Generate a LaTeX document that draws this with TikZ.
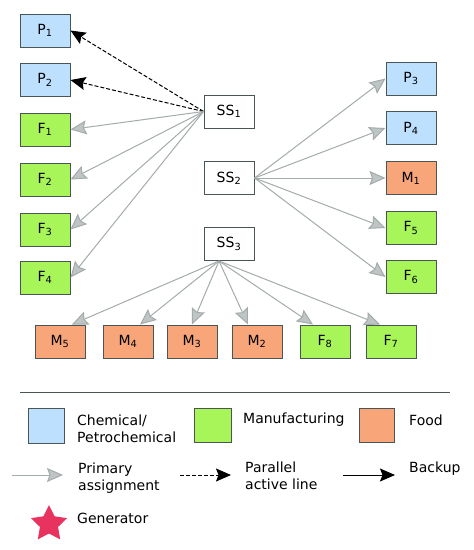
\documentclass[tikz,border=0pt]{standalone}
\usepackage{fontspec}
\setmainfont{DejaVu Sans}
\usepackage{xcolor}
\usetikzlibrary{positioning, calc, arrows.meta, shapes.geometric}

\definecolor{chemblue}{HTML}{BEE0FF}
\definecolor{manugreen}{HTML}{A8F55A}
\definecolor{foodorange}{HTML}{F8A57A}
\definecolor{boxedge}{HTML}{4A5656}
\definecolor{primgray}{HTML}{A3ABAB}
\definecolor{genred}{HTML}{E8335E}

\tikzset{
    plant/.style={draw=boxedge, line width=1pt, minimum width=50pt, minimum height=33pt, inner sep=0pt},
    chem/.style={plant, fill=chemblue},
    manu/.style={plant, fill=manugreen},
    food/.style={plant, fill=foodorange},
    substation/.style={plant, fill=white},
    primary/.style={draw=primgray, line width=1pt, -{Stealth[inset=2.5pt, length=16pt, width=14pt, fill=primgray!70]}},
    parallel/.style={draw=black, line width=1pt, dash pattern=on 4pt off 2pt, -{Stealth[inset=2.5pt, length=15pt, width=13pt]}},
    backup/.style={draw=black, line width=1pt, -{Stealth[inset=2.5pt, length=15pt, width=13pt]}},
    legtext/.style={anchor=west, align=left, inner sep=0pt}
}

\begin{document}
\begin{tikzpicture}[x=1pt, y=-1pt, font=\fontsize{14}{17.5}\selectfont]
    \useasboundingbox (0,0) rectangle (474,550);

    % Left column
    \node[chem] (p1) at (45, 30.5) {P\textsubscript{1}};
    \node[chem] (p2) at (45, 80) {P\textsubscript{2}};
    \node[manu] (f1) at (45, 129.5) {F\textsubscript{1}};
    \node[manu] (f2) at (45, 179.5) {F\textsubscript{2}};
    \node[manu] (f3) at (45, 229.5) {F\textsubscript{3}};
    \node[manu] (f4) at (45, 277.5) {F\textsubscript{4}};

    % Substations
    \node[substation] (ss1) at (229, 111.5) {SS\textsubscript{1}};
    \node[substation] (ss2) at (229, 178) {SS\textsubscript{2}};
    \node[substation] (ss3) at (229, 244) {SS\textsubscript{3}};

    % Right column
    \node[chem] (p3) at (411, 78.5) {P\textsubscript{3}};
    \node[chem] (p4) at (411, 128) {P\textsubscript{4}};
    \node[food] (m1) at (411, 178) {M\textsubscript{1}};
    \node[manu] (f5) at (411, 228) {F\textsubscript{5}};
    \node[manu] (f6) at (411, 277) {F\textsubscript{6}};

    % Bottom row
    \node[food] (m5) at (60, 341.5) {M\textsubscript{5}};
    \node[food] (m4) at (128, 341.5) {M\textsubscript{4}};
    \node[food] (m3) at (192, 341.5) {M\textsubscript{3}};
    \node[food] (m2) at (257, 341.5) {M\textsubscript{2}};
    \node[manu] (f8) at (325, 341.5) {F\textsubscript{8}};
    \node[manu] (f7) at (391, 341.5) {F\textsubscript{7}};

    % SS1 lines
    \draw[parallel] (ss1.west) -- (p1.east);
    \draw[parallel] (ss1.west) -- (p2.east);
    \draw[primary] (ss1.west) -- (f1.east);
    \draw[primary] (ss1.west) -- (f2.east);
    \draw[primary] (ss1.west) -- (f3.east);
    \draw[primary] (ss1.west) -- (f4.east);

    % SS2 lines
    \draw[primary] (ss2.east) -- (p3.west);
    \draw[primary] (ss2.east) -- (p4.west);
    \draw[primary] (ss2.east) -- (m1.west);
    \draw[primary] (ss2.east) -- (f5.west);
    \draw[primary] (ss2.east) -- (f6.west);

    % SS3 lines
    \coordinate (ss3out) at ([xshift=-10pt]ss3.south);
    \draw[primary] (ss3out) -- ([xshift=12pt]m5.north);
    \draw[primary] (ss3out) -- ([xshift=12pt]m4.north);
    \draw[primary] (ss3out) -- (m3.north);
    \draw[primary] (ss3out) -- ([xshift=-9pt]m2.north);
    \draw[primary] (ss3out) -- ([xshift=-12pt]f8.north);
    \draw[primary] (ss3out) -- ([xshift=-11pt]f7.north);

    % Separator
    \draw[line width=0.9pt, boxedge] (20, 392) -- (450, 392);

    % Legend: sectors
    \node[plant, fill=chemblue, minimum width=36pt, minimum height=35pt] (legchem) at (46, 425.5) {};
    \node[legtext] (legchemtxt) at (77, 429) {Chemical/\\Petrochemical};
    \node[plant, fill=manugreen, minimum width=37pt, minimum height=34pt] (legmanu) at (212.5, 425) {};
    \node[legtext] (legmanutxt) at (243, 420) {Manufacturing};
    \node[plant, fill=foodorange, minimum width=35pt, minimum height=34pt] (legfood) at (376.5, 425) {};
    \node[legtext] (legfoodtxt) at (409, 420) {Food};

    % Legend: lines
    \coordinate (lp0) at (12, 475);
    \coordinate (lp1) at (63, 475);
    \draw[primary] (lp0) -- (lp1);
    \node[legtext] (legprimtxt) at (78, 478) {Primary\\assignment};
    \coordinate (ld0) at (180, 475);
    \coordinate (ld1) at (231, 475);
    \draw[parallel] (ld0) -- (ld1);
    \node[legtext] (legpartxt) at (245, 476) {Parallel\\active line};
    \coordinate (lb0) at (343, 475);
    \coordinate (lb1) at (395, 475);
    \draw[backup] (lb0) -- (lb1);
    \node[legtext] (legbacktxt) at (409, 469) {Backup};

    % Legend: generator
    \node[star, star points=5, star point ratio=2, fill=genred, minimum size=38pt, inner sep=0pt] (leggen) at (49, 524) {};
    \node[legtext] (leggentxt) at (77, 518) {Generator};

\end{tikzpicture}
\end{document}
